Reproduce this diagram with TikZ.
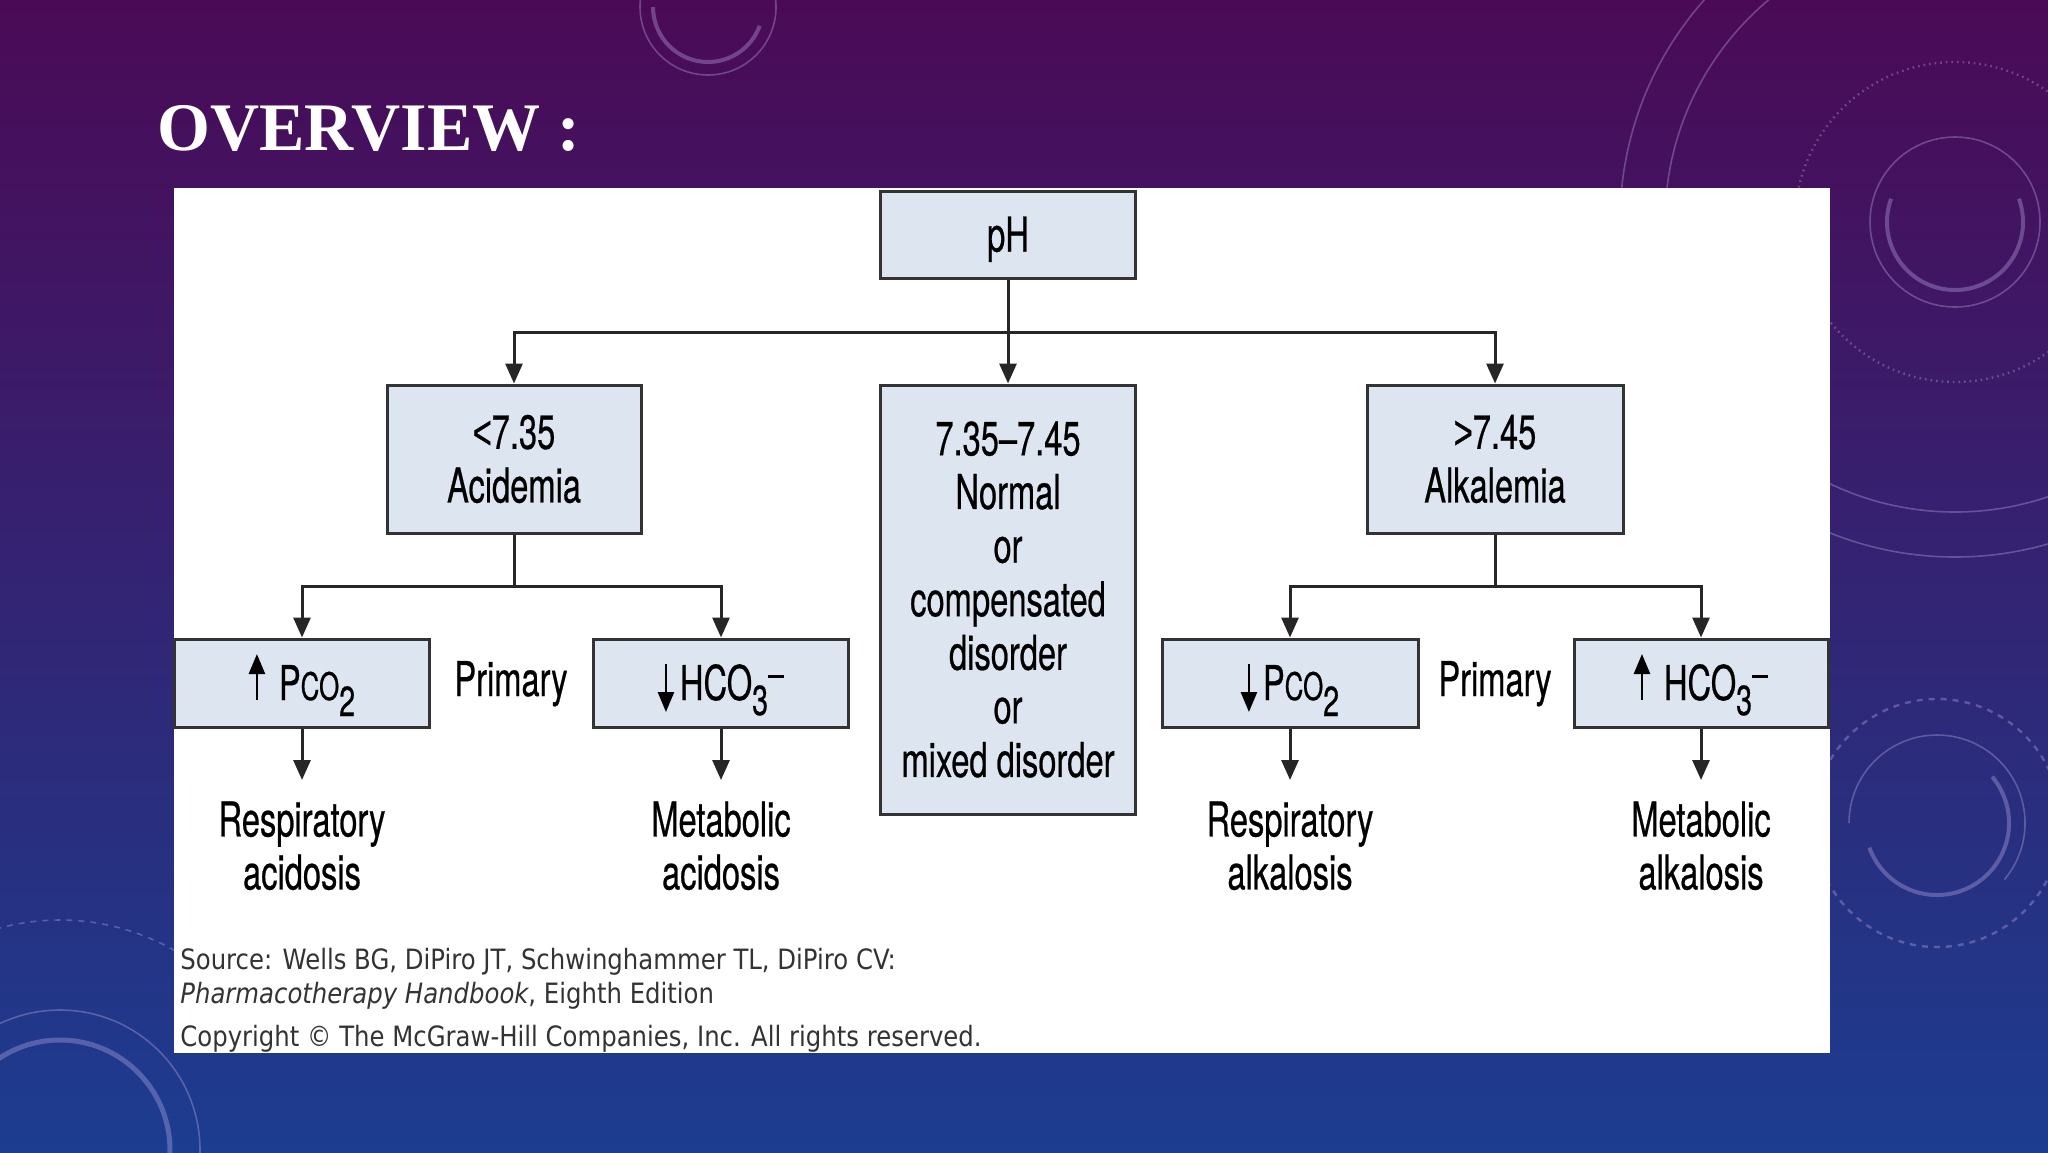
\documentclass[tikz,border=0pt]{standalone}
\usepackage{fontspec}
\setmainfont{Liberation Serif}
\newfontfamily\cond[FakeStretch=0.68,FakeBold=0.5]{TeX Gyre Heros}
\newfontfamily\lsans[FakeStretch=0.68,FakeBold=0.5]{Liberation Sans}
\newfontfamily\srcfont[FakeStretch=0.87]{DejaVu Sans}
\usetikzlibrary{arrows.meta}
\definecolor{bgtop}{HTML}{4B0A56}
\definecolor{bgmid}{HTML}{33186F}
\definecolor{bgbot}{HTML}{1C3D90}
\definecolor{boxfill}{HTML}{DDE5F1}
\definecolor{boxline}{HTML}{333333}
\definecolor{deco}{HTML}{C0B0E8}
\newcommand{\uparr}{\tikz[baseline=0pt]\draw[line width=1.3pt,black,-{Triangle[length=10pt,width=8pt]}] (0pt,0pt) -- (0pt,23pt);}
\newcommand{\dnarr}{\tikz[baseline=0pt]\draw[line width=1.3pt,black,-{Triangle[length=10pt,width=8pt]}] (0pt,18pt) -- (0pt,-6pt);}
\newcommand{\pcotwo}{P{\fontsize{19}{19}\selectfont CO}{\fontsize{21}{21}\selectfont\raisebox{-8pt}{2}}}
\newcommand{\hcothree}{HCO{\fontsize{21}{21}\selectfont\raisebox{-7.5pt}{3}}\raisebox{11pt}{\rule{8pt}{1.4pt}}}
\begin{document}
\begin{tikzpicture}[x=0.5pt,y=-0.5pt,
  bx/.style={draw=boxline,line width=1.5pt,fill=boxfill,inner sep=0pt,align=center,
    font=\cond\fontsize{24}{26.8}\selectfont},
  onel/.style={text height=17pt,text depth=0pt},
  lbl/.style={inner xsep=0pt,inner ysep=10.5pt,align=center,font=\cond\fontsize{24}{26.5}\selectfont},
  ln/.style={line width=1.5pt,draw=black!85},
  arr/.style={ln,-{Triangle[length=10pt,width=8.5pt]}},
  src/.style={inner sep=0pt,anchor=base west,text=black!80,font=\srcfont\fontsize{14}{16}\selectfont},
  dc/.style={draw=deco,opacity=0.35,line width=0.8pt}]
\useasboundingbox (0,0) rectangle (2048,1152);
\shade[top color=bgtop,middle color=bgmid,bottom color=bgbot] (0,0) rectangle (2048,1152);
% background decorations
\draw[dc] (708,7) circle (68);
\draw[dc,line width=2pt] (708,7) ++(180:55) arc (180:20:55);
\draw[dc] (1955,222) circle (85);
\draw[dc,line width=2pt] (1955,222) ++(200:68) arc (200:-20:68);
\draw[dc,dotted,line width=1.2pt] (1955,222) circle (160);
\draw[dc] (1955,222) circle (290);
\draw[dc] (1955,222) circle (335);
\draw[dc,line width=2pt] (1937,823) ++(160:72) arc (160:-40:72);
\draw[dc] (1937,823) ++(180:88) arc (180:400:88);
\draw[dc,dashed,line width=1.2pt] (1937,823) circle (124);
\draw[dc,line width=2.5pt] (60,1150) circle (110);
\draw[dc] (60,1150) circle (140);
\draw[dc,dashed] (60,1150) ++(-60:230) arc (-60:-120:230);
% title
\node[inner sep=0pt,anchor=base west,text=white,font=\bfseries\fontsize{34}{34}\selectfont] (title) at (157,150) {OVERVIEW :};
% panel
\fill[white] (174,188) rectangle (1830,1053);
% boxes
\node[bx,onel,minimum width=127.5pt,minimum height=43.5pt] (ph) at (1008,234.5) {pH};
\node[bx,minimum width=127pt,minimum height=74pt] (acid) at (514,459) {{\lsans<}7.35\\Acidemia};
\node[bx,minimum width=127.5pt,minimum height=214.5pt] (norm) at (1008,599.5) {7.35–7.45\\Normal\\or\\compensated\\disorder\\or\\mixed disorder};
\node[bx,minimum width=128pt,minimum height=74pt] (alk) at (1495,459) {{\lsans>}7.45\\Alkalemia};
\node[bx,onel,minimum width=127.5pt,minimum height=44pt] (pL) at (302,683) {\uparr\hspace{7pt}\pcotwo};
\node[bx,onel,minimum width=127.5pt,minimum height=44pt] (hL) at (721,683) {\dnarr\hspace{3pt}\hcothree};
\node[bx,onel,minimum width=128pt,minimum height=44pt] (pR) at (1290,683) {\dnarr\hspace{3pt}\pcotwo};
\node[bx,onel,minimum width=127pt,minimum height=44pt] (hR) at (1701,683) {\uparr\hspace{7pt}\hcothree};
\node[lbl,inner ysep=0pt,anchor=base] (primL) at (511,696) {Primary};
\node[lbl,inner ysep=0pt,anchor=base] (primR) at (1495,696) {Primary};
\node[lbl,anchor=north] (rL) at (302,780) {Respiratory\\acidosis};
\node[lbl,anchor=north] (mL) at (721,780) {Metabolic\\acidosis};
\node[lbl,anchor=north] (rR) at (1290,780) {Respiratory\\alkalosis};
\node[lbl,anchor=north] (mR) at (1701,780) {Metabolic\\alkalosis};
% connectors
\coordinate (s1) at (1008,332);
\draw[arr] (ph.south) -- (norm.north);
\draw[arr] (s1) -| (acid.north);
\draw[arr] (s1) -| (alk.north);
\path (acid.south) ++(0,52) coordinate (s2);
\path (alk.south) ++(0,52) coordinate (s3);
\draw[ln] (acid.south) -- (s2);
\draw[arr] (s2) -| (pL.north);
\draw[arr] (s2) -| (hL.north);
\draw[ln] (alk.south) -- (s3);
\draw[arr] (s3) -| (pR.north);
\draw[arr] (s3) -| (hR.north);
\draw[arr] (pL.south) -- (rL.north);
\draw[arr] (hL.south) -- (mL.north);
\draw[arr] (pR.south) -- (rR.north);
\draw[arr] (hR.south) -- (mR.north);
% source
\node[src] (src1) at (180,969) {Source: Wells BG, DiPiro JT, Schwinghammer TL, DiPiro CV:};
\node[src] (src2) at (180,1003) {\textit{Pharmacotherapy Handbook}, Eighth Edition};
\node[src] (src3) at (180,1046) {Copyright © The McGraw-Hill Companies, Inc. All rights reserved.};
\end{tikzpicture}
\end{document}
